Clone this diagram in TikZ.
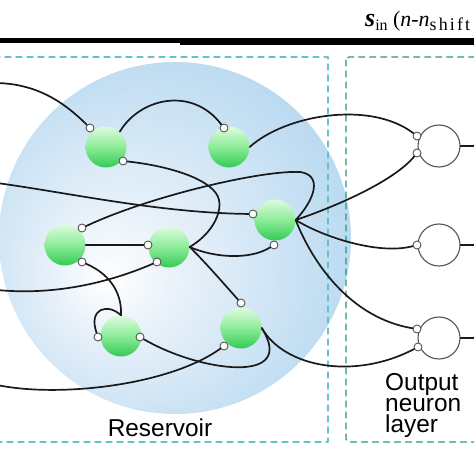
\documentclass[tikz,border=0pt]{standalone}
\usepackage{fontspec}
\setsansfont{Liberation Sans}
\newfontfamily\timesfont{Liberation Serif}
\definecolor{sphblue}{RGB}{150,200,234}
\definecolor{sphmid}{RGB}{190,220,242}
\definecolor{sphlight}{RGB}{230,240,249}
\definecolor{ntop}{RGB}{222,252,222}
\definecolor{nmid}{RGB}{140,236,152}
\definecolor{nbot}{RGB}{52,202,84}
\definecolor{resdash}{RGB}{100,195,200}
\definecolor{outdash}{RGB}{40,150,120}
\definecolor{rim}{RGB}{85,85,85}
\pgfdeclareradialshading{sphshade}{\pgfpoint{-10bp}{-6bp}}{color(0bp)=(white); color(10bp)=(sphlight); color(28bp)=(sphmid); color(50bp)=(sphblue)}
\begin{document}
\begin{tikzpicture}[x=1bp,y=-1bp,line join=round,line cap=round,
	neuron/.style={circle,minimum size=41bp,inner sep=0pt,top color=ntop,bottom color=nbot,middle color=nmid},
	outneuron/.style={circle,minimum size=42bp,inner sep=0pt,draw=rim,line width=1.1bp,fill=white},
	port/.style={circle,minimum size=8bp,inner sep=0pt,draw=rim,line width=0.9bp,fill=white},
	link/.style={line width=1.7bp,black!90},
	resbox/.style={draw=resdash,line width=1.3bp,dash pattern=on 6bp off 5bp},
	outbox/.style={draw=outdash,line width=1.3bp,dash pattern=on 6bp off 5bp,rounded corners=3bp},
	lbl/.style={font=\sffamily\fontsize{24.5}{21}\selectfont,inner sep=0pt}]
	\useasboundingbox (0,0) rectangle (474,474);
	\shade[shading=sphshade] (175,238) circle (176);
	\draw[resbox] (-4,57) rectangle (328,442);
	\draw[outbox] (346,57) rectangle (480,442);
	\coordinate (barA) at (-2,40.5); \coordinate (barB) at (181,40.5);
	\coordinate (barC) at (180,41.5); \coordinate (barD) at (478,41.5);
	\draw[line width=5bp,line cap=butt] (barA)--(barB);
	\draw[line width=6.5bp,line cap=butt] (barC)--(barD);
	\node[anchor=base west,inner sep=0pt] (sig) at (365,27) {\timesfont\fontsize{22}{24}\selectfont{\fontsize{26}{26}\selectfont\bfseries\itshape s}\raisebox{-3.5bp}{\fontsize{16}{16}\selectfont in} (\textit{n}-\textit{n}\raisebox{-3.5bp}{\fontsize{18}{18}\selectfont\addfontfeature{LetterSpace=12}shift}};
	\node[lbl] (reslbl) at (160,428) {Reservoir};
	\node[lbl,align=left,anchor=base west] (outlbl) at (385,432) {Output\\neuron\\layer};
	\coordinate (inA) at (-3,83); \coordinate (inB) at (-3,183);
	\coordinate (inC) at (-3,290); \coordinate (inD) at (-3,385);
	\coordinate (outA) at (478,146); \coordinate (outB) at (478,245); \coordinate (outC) at (478,338);
	\node[neuron] (n1) at (106,147) {};
	\node[neuron] (n2) at (229,147) {};
	\node[neuron] (n3) at (65,245) {};
	\node[neuron] (n4) at (169,247) {};
	\node[neuron] (n5) at (275,220) {};
	\node[neuron] (n6) at (121,336) {};
	\node[neuron] (n7) at (241,328) {};
	\node[outneuron] (o1) at (439,146) {};
	\node[outneuron] (o2) at (439,245) {};
	\node[outneuron] (o3) at (439,338) {};
	\node[port] (p1a) at (90,128) {}; \node[port] (p1b) at (123,161) {};
	\node[port] (p2a) at (224,128) {};
	\node[port] (p3a) at (82,228) {}; \node[port] (p3b) at (82,262) {};
	\node[port] (p4a) at (148,245) {}; \node[port] (p4b) at (157,262) {};
	\node[port] (p5a) at (253,214) {}; \node[port] (p5b) at (274,245) {};
	\node[port] (p6a) at (98,337) {}; \node[port] (p6b) at (140,337) {};
	\node[port] (p7a) at (241,303) {}; \node[port] (p7b) at (224,346) {};
	\node[port] (q1a) at (417,136) {}; \node[port] (q1b) at (417,153) {};
	\node[port] (q2a) at (417,245) {};
	\node[port] (q3a) at (417,329) {}; \node[port] (q3b) at (418,347) {};
	\draw[link] (inA) .. controls (35,84) and (62,100) .. (p1a);
	\draw[link] (n1.48) .. controls (140,98) and (192,86) .. (p2a);
	\draw[link] (n4.east) .. controls (210,235) and (222,215) .. (219,200) .. controls (215,180) and (170,166) .. (p1b);
	\draw[link] (inB) .. controls (70,193) and (160,213) .. (p5a);
	\draw[link] (n5.east) .. controls (316,198) and (322,175) .. (300,172) .. controls (262,170) and (150,196) .. (p3a);
	\draw[link] (n3.east) -- (p4a);
	\draw[link] (n6.north) .. controls (122,295) and (112,275) .. (p3b);
	\draw[link] (n6.north) .. controls (108,303) and (88,308) .. (p6a);
	\draw[link] (inC) .. controls (60,296) and (115,280) .. (p4b);
	\draw[link] (n4.east) .. controls (205,262) and (225,285) .. (p7a);
	\draw[link] (n4.east) .. controls (215,258) and (250,260) .. (p5b);
	\draw[link] (n5.east) .. controls (340,205) and (395,180) .. (q1b);
	\draw[link] (n5.east) .. controls (325,238) and (380,255) .. (q2a);
	\draw[link] (n5.east) .. controls (312,262) and (350,318) .. (q3a);
	\draw[link] (n2.east) .. controls (285,115) and (370,100) .. (q1a);
	\draw[link] (inD) .. controls (60,398) and (170,385) .. (p7b);
	\draw[link] (n7.east) .. controls (298,385) and (200,372) .. (p6b);
	\draw[link] (n7.east) .. controls (285,368) and (355,380) .. (q3b);
	\draw[link,line width=2bp] (o1.east) -- (outA);
	\draw[link,line width=2bp] (o2.east) -- (outB);
	\draw[link,line width=2bp] (o3.east) -- (outC);
\end{tikzpicture}
\end{document}
